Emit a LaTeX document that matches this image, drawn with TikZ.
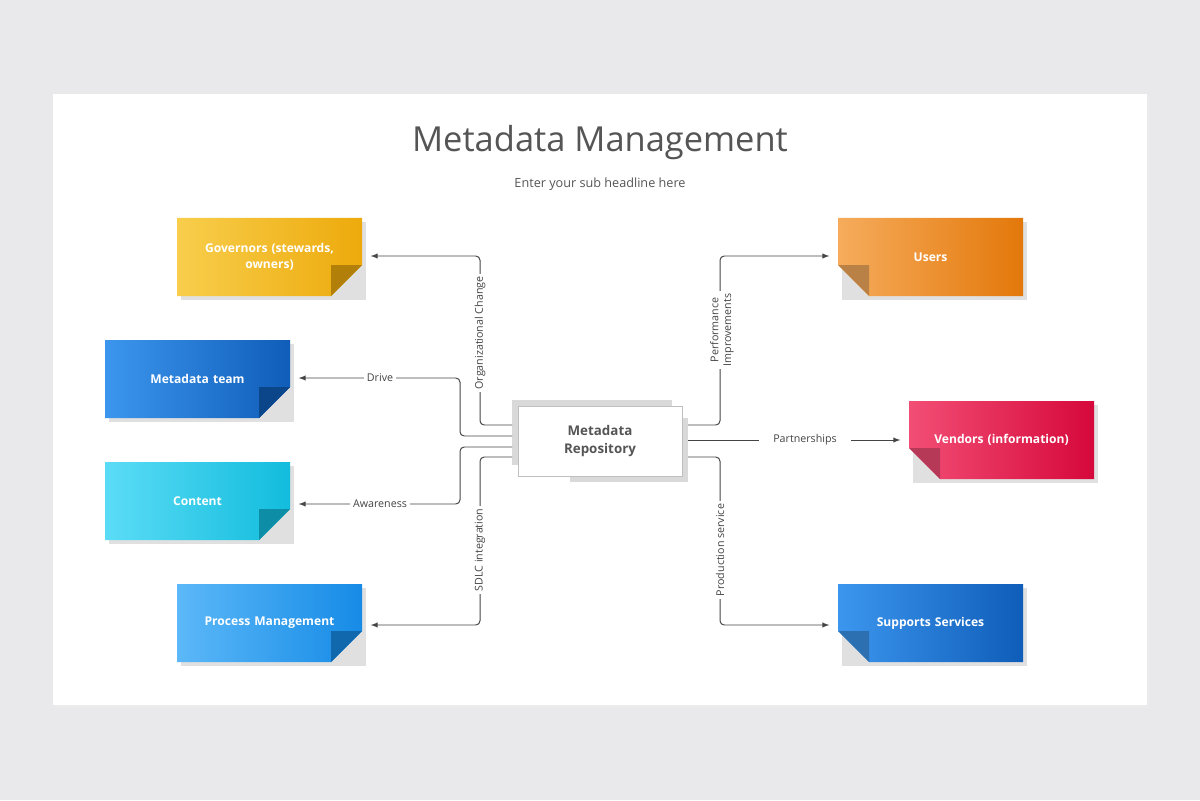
\documentclass[tikz,border=0pt]{standalone}
\usepackage{fontspec}
\setmainfont{Open Sans}
\usetikzlibrary{positioning}

\definecolor{pagegray}{HTML}{E9E8EA}
\definecolor{titlegray}{HTML}{555555}
\definecolor{linegray}{HTML}{444444}
\definecolor{govA}{HTML}{F8CE4C}\definecolor{govB}{HTML}{EDAA0C}
\definecolor{teamA}{HTML}{3C96EE}\definecolor{teamB}{HTML}{0F5DB9}
\definecolor{contA}{HTML}{5BDCF6}\definecolor{contB}{HTML}{12BCDD}
\definecolor{procA}{HTML}{5CB8F8}\definecolor{procB}{HTML}{168BE6}
\definecolor{userA}{HTML}{F6AC5C}\definecolor{userB}{HTML}{E3780A}
\definecolor{vendA}{HTML}{F24E75}\definecolor{vendB}{HTML}{D6083B}

\tikzset{
  note text/.style={text=white,font=\bfseries\fontsize{8.6}{11}\selectfont,align=center,
    text width=4.4cm,inner xsep=0.1125cm},
  link/.style={linegray,line width=0.7pt,rounded corners=3pt},
  arrow/.style={link,-latex},
  tag/.style={fill=white,text=linegray,font=\fontsize{7.6}{9}\selectfont,inner sep=2pt,align=center},
}

% sticky note: name, left, top, text, colour 1, colour 2, fold (r or l)
\newcommand{\sticky}[7]{%
  \fill[black!12] (#2+4,#3+4) rectangle ++(185,78);
  \if#7r
    \shade[left color=#5,right color=#6] (#2,#3) -- ++(185,0) -- ++(0,47) -- ++(-31,31) -- ++(-154,0) -- cycle;
    \fill[#6!75!black] (#2+154,#3+78) -- ++(0,-31) -- ++(31,0) -- cycle;
  \else
    \shade[left color=#5,right color=#6] (#2,#3) -- ++(185,0) -- ++(0,78) -- ++(-154,0) -- ++(-31,-31) -- cycle;
    \fill[#5!75!black] (#2+31,#3+78) -- ++(0,-31) -- ++(-31,0) -- cycle;
  \fi
  \node[note text] (#1) at (#2+92.5,#3+39) {#4};%
}

\begin{document}
\begin{tikzpicture}[x=0.025cm,y=-0.025cm]
% page
\fill[pagegray] (0,0) rectangle (1200,800);
\fill[black!8] (55,97) rectangle (1149,708);
\fill[white] (53,94) rectangle (1147,705);
\useasboundingbox (0,0) rectangle (1200,800);

% headings
\node[text=titlegray,font=\fontsize{24.5}{29}\selectfont] (title) at (600,143) {Metadata Management};
\node[text=titlegray,font=\fontsize{9}{11}\selectfont] (sub) at (600,184) {Enter your sub headline here};

% notes
\sticky{gov}{177}{218}{Governors (stewards,\\ owners)}{govA}{govB}{r}
\sticky{team}{105}{340}{Metadata team}{teamA}{teamB}{r}
\sticky{content}{105}{462}{Content}{contA}{contB}{r}
\sticky{process}{177}{584}{Process Management}{procA}{procB}{r}
\sticky{users}{838}{218}{Users}{userA}{userB}{l}
\sticky{vendors}{909}{401}{Vendors (information)}{vendA}{vendB}{l}
\sticky{supports}{838}{584}{Supports Services}{teamA}{teamB}{l}

% repository
\fill[black!15] (512,400) rectangle (672,465);
\fill[black!15] (570,418) rectangle (688,482);
\node[draw=black!25,fill=white,minimum width=4.1cm,minimum height=1.75cm,
  text=titlegray,font=\bfseries\fontsize{9.5}{13}\selectfont,align=center] (repo) at (600,441) {Metadata\\ Repository};

% connectors
\draw[arrow] (512,425) -- (480,425) -- (480,256) -- ([xshift=6]gov.east |- 0,256);
\draw[arrow] (512,436) -- (460,436) -- (460,378) -- ([xshift=6]team.east |- 0,378);
\draw[arrow] (512,447) -- (460,447) -- (460,504) -- ([xshift=6]content.east |- 0,504);
\draw[arrow] (512,457) -- (480,457) -- (480,625) -- ([xshift=6]process.east |- 0,625);
\draw[arrow] (688,425) -- (720,425) -- (720,256) -- ([xshift=-6]users.west |- 0,256);
\draw[arrow] (688,440) -- ([xshift=-6]vendors.west |- 0,440);
\draw[arrow] (688,457) -- (720,457) -- (720,625) -- ([xshift=-6]supports.west |- 0,625);

% labels
\node[tag,rotate=90] (lorg) at (480,333) {Organizational Change};
\node[tag] (ldrive) at (380,378) {Drive};
\node[tag] (laware) at (380,504) {Awareness};
\node[tag,rotate=90] (lsdlc) at (480,550) {SDLC integration};
\node[tag,rotate=90] (lperf) at (722,330) {Performance\\ Improvements};
\node[tag,inner xsep=10pt] (lpart) at (805,440) {Partnerships};
\node[tag,rotate=90] (lprod) at (720,550) {Production service};
\end{tikzpicture}
\end{document}
